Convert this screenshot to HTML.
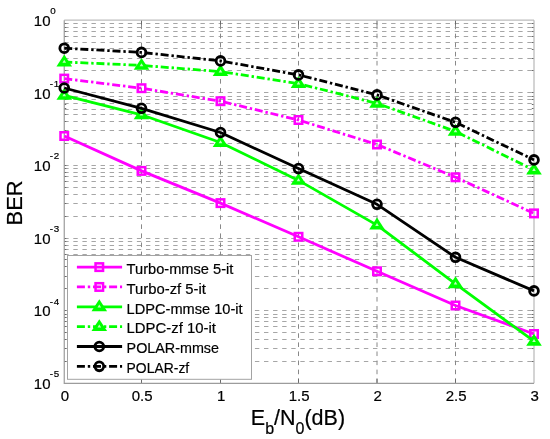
<!DOCTYPE html>
<html><head><meta charset="utf-8"><title>BER plot</title>
<style>
html,body{margin:0;padding:0;background:#fff;}
svg{display:block;}
.t{font-family:"Liberation Sans",Arial,sans-serif;font-size:15px;fill:#000;stroke:#000;stroke-width:0.2px;}
.s{font-family:"Liberation Sans",Arial,sans-serif;font-size:9.8px;fill:#000;stroke:#000;stroke-width:0.2px;}
.l{font-family:"Liberation Sans",Arial,sans-serif;font-size:21.5px;fill:#000;stroke:#000;stroke-width:0.2px;}
.sub{font-size:16px;}
</style></head><body>
<svg width="550" height="439" viewBox="0 0 550 439">
<rect x="0" y="0" width="550" height="439" fill="#fff"/>
<path d="M64.25 92.50H534.00 M64.25 70.50H534.00 M64.25 58.50H534.00 M64.25 48.50H534.00 M64.25 42.50H534.00 M64.25 36.50H534.00 M64.25 31.50H534.00 M64.25 27.50H534.00 M64.25 23.50H534.00 M64.25 165.50H534.00 M64.25 143.50H534.00 M64.25 130.50H534.00 M64.25 121.50H534.00 M64.25 114.50H534.00 M64.25 109.50H534.00 M64.25 103.50H534.00 M64.25 99.50H534.00 M64.25 96.50H534.00 M64.25 238.50H534.00 M64.25 216.50H534.00 M64.25 203.50H534.00 M64.25 194.50H534.00 M64.25 187.50H534.00 M64.25 181.50H534.00 M64.25 176.50H534.00 M64.25 172.50H534.00 M64.25 168.50H534.00 M64.25 310.50H534.00 M64.25 288.50H534.00 M64.25 276.50H534.00 M64.25 266.50H534.00 M64.25 259.50H534.00 M64.25 254.50H534.00 M64.25 249.50H534.00 M64.25 245.50H534.00 M64.25 241.50H534.00 M64.25 361.50H534.00 M64.25 348.50H534.00 M64.25 339.50H534.00 M64.25 332.50H534.00 M64.25 326.50H534.00 M64.25 321.50H534.00 M64.25 317.50H534.00 M64.25 314.50H534.00" stroke="#a6a6a6" stroke-width="1" stroke-dasharray="4.4 4.68" fill="none"/>
<path d="M141.50 383.30V20.20 M220.50 383.30V20.20 M298.50 383.30V20.20 M377.00 383.30V20.20 M455.50 383.30V20.20" stroke="#888888" stroke-width="1" stroke-dasharray="4.6 4.48" fill="none"/>
<path d="M64.25 92.50h2.0M534.00 92.50h-2.2M64.25 70.50h2.0M534.00 70.50h-2.2M64.25 58.50h2.0M534.00 58.50h-2.2M64.25 49.50h2.0M534.00 49.50h-2.2M64.25 42.50h2.0M534.00 42.50h-2.2M64.25 36.50h2.0M534.00 36.50h-2.2M64.25 31.50h2.0M534.00 31.50h-2.2M64.25 27.50h2.0M534.00 27.50h-2.2M64.25 23.50h2.0M534.00 23.50h-2.2M64.25 165.50h2.0M534.00 165.50h-2.2M64.25 143.50h2.0M534.00 143.50h-2.2M64.25 130.50h2.0M534.00 130.50h-2.2M64.25 121.50h2.0M534.00 121.50h-2.2M64.25 114.50h2.0M534.00 114.50h-2.2M64.25 108.50h2.0M534.00 108.50h-2.2M64.25 104.50h2.0M534.00 104.50h-2.2M64.25 99.50h2.0M534.00 99.50h-2.2M64.25 96.50h2.0M534.00 96.50h-2.2M64.25 238.50h2.0M534.00 238.50h-2.2M64.25 216.50h2.0M534.00 216.50h-2.2M64.25 203.50h2.0M534.00 203.50h-2.2M64.25 194.50h2.0M534.00 194.50h-2.2M64.25 187.50h2.0M534.00 187.50h-2.2M64.25 181.50h2.0M534.00 181.50h-2.2M64.25 176.50h2.0M534.00 176.50h-2.2M64.25 172.50h2.0M534.00 172.50h-2.2M64.25 168.50h2.0M534.00 168.50h-2.2M64.25 310.50h2.0M534.00 310.50h-2.2M64.25 288.50h2.0M534.00 288.50h-2.2M64.25 276.50h2.0M534.00 276.50h-2.2M64.25 266.50h2.0M534.00 266.50h-2.2M64.25 259.50h2.0M534.00 259.50h-2.2M64.25 254.50h2.0M534.00 254.50h-2.2M64.25 249.50h2.0M534.00 249.50h-2.2M64.25 245.50h2.0M534.00 245.50h-2.2M64.25 241.50h2.0M534.00 241.50h-2.2M64.25 383.50h2.0M534.00 383.50h-2.2M64.25 361.50h2.0M534.00 361.50h-2.2M64.25 348.50h2.0M534.00 348.50h-2.2M64.25 339.50h2.0M534.00 339.50h-2.2M64.25 332.50h2.0M534.00 332.50h-2.2M64.25 326.50h2.0M534.00 326.50h-2.2M64.25 321.50h2.0M534.00 321.50h-2.2M64.25 317.50h2.0M534.00 317.50h-2.2M64.25 314.50h2.0M534.00 314.50h-2.2M141.50 383.30v-4.7M141.50 20.20v4.7M220.50 383.30v-4.7M220.50 20.20v4.7M298.50 383.30v-4.7M298.50 20.20v4.7M377.00 383.30v-4.7M377.00 20.20v4.7M455.50 383.30v-4.7M455.50 20.20v4.7" stroke="#6a6a6a" stroke-width="1" fill="none"/>
<path d="M64.25 20.20H534.00M534.00 20.20V383.30" stroke="#bdbdbd" stroke-width="1.3" fill="none"/>
<path d="M64.25 20.20V383.30H534.00" stroke="#9c9c9c" stroke-width="1.2" fill="none"/>
<polyline points="64.25,136.00 141.50,170.90 220.50,203.10 298.50,236.80 377.00,271.30 455.50,305.50 534.00,334.00" fill="none" stroke="#ff00ff" stroke-width="2.8" stroke-linejoin="round"/>
<rect x="60.50" y="132.25" width="7.5" height="7.5" fill="none" stroke="#ff00ff" stroke-width="2.5"/>
<rect x="137.75" y="167.15" width="7.5" height="7.5" fill="none" stroke="#ff00ff" stroke-width="2.5"/>
<rect x="216.75" y="199.35" width="7.5" height="7.5" fill="none" stroke="#ff00ff" stroke-width="2.5"/>
<rect x="294.75" y="233.05" width="7.5" height="7.5" fill="none" stroke="#ff00ff" stroke-width="2.5"/>
<rect x="373.25" y="267.55" width="7.5" height="7.5" fill="none" stroke="#ff00ff" stroke-width="2.5"/>
<rect x="451.75" y="301.75" width="7.5" height="7.5" fill="none" stroke="#ff00ff" stroke-width="2.5"/>
<rect x="530.25" y="330.25" width="7.5" height="7.5" fill="none" stroke="#ff00ff" stroke-width="2.5"/>
<polyline points="64.25,78.60 141.50,88.20 220.50,101.20 298.50,120.00 377.00,144.50 455.50,177.30 534.00,213.40" fill="none" stroke="#ff00ff" stroke-width="2.8" stroke-dasharray="8.0 2.9 2.4 2.8" stroke-linejoin="round"/>
<rect x="60.50" y="74.85" width="7.5" height="7.5" fill="none" stroke="#ff00ff" stroke-width="2.5"/>
<rect x="137.75" y="84.45" width="7.5" height="7.5" fill="none" stroke="#ff00ff" stroke-width="2.5"/>
<rect x="216.75" y="97.45" width="7.5" height="7.5" fill="none" stroke="#ff00ff" stroke-width="2.5"/>
<rect x="294.75" y="116.25" width="7.5" height="7.5" fill="none" stroke="#ff00ff" stroke-width="2.5"/>
<rect x="373.25" y="140.75" width="7.5" height="7.5" fill="none" stroke="#ff00ff" stroke-width="2.5"/>
<rect x="451.75" y="173.55" width="7.5" height="7.5" fill="none" stroke="#ff00ff" stroke-width="2.5"/>
<rect x="530.25" y="209.65" width="7.5" height="7.5" fill="none" stroke="#ff00ff" stroke-width="2.5"/>
<polyline points="64.25,95.40 141.50,114.80 220.50,142.50 298.50,180.40 377.00,225.10 455.50,283.80 534.00,341.20" fill="none" stroke="#00ff00" stroke-width="2.8" stroke-linejoin="round"/>
<path d="M64.25 87.90L72.05 99.85L56.45 99.85Z" fill="#00ff00"/><path d="M64.25 93.20L66.05 96.20L62.45 96.20Z" fill="#fff" opacity="0.75"/>
<path d="M141.50 107.30L149.30 119.25L133.70 119.25Z" fill="#00ff00"/><path d="M141.50 112.60L143.30 115.60L139.70 115.60Z" fill="#fff" opacity="0.75"/>
<path d="M220.50 135.00L228.30 146.95L212.70 146.95Z" fill="#00ff00"/><path d="M220.50 140.30L222.30 143.30L218.70 143.30Z" fill="#fff" opacity="0.75"/>
<path d="M298.50 172.90L306.30 184.85L290.70 184.85Z" fill="#00ff00"/><path d="M298.50 178.20L300.30 181.20L296.70 181.20Z" fill="#fff" opacity="0.75"/>
<path d="M377.00 217.60L384.80 229.55L369.20 229.55Z" fill="#00ff00"/><path d="M377.00 222.90L378.80 225.90L375.20 225.90Z" fill="#fff" opacity="0.75"/>
<path d="M455.50 276.30L463.30 288.25L447.70 288.25Z" fill="#00ff00"/><path d="M455.50 281.60L457.30 284.60L453.70 284.60Z" fill="#fff" opacity="0.75"/>
<path d="M534.00 333.70L541.80 345.65L526.20 345.65Z" fill="#00ff00"/><path d="M534.00 339.00L535.80 342.00L532.20 342.00Z" fill="#fff" opacity="0.75"/>
<polyline points="64.25,62.00 141.50,65.40 220.50,71.60 298.50,83.60 377.00,103.40 455.50,131.40 534.00,170.10" fill="none" stroke="#00ff00" stroke-width="2.8" stroke-dasharray="8.0 2.9 2.4 2.8" stroke-linejoin="round"/>
<path d="M64.25 54.50L72.05 66.45L56.45 66.45Z" fill="#00ff00"/><path d="M64.25 59.80L66.05 62.80L62.45 62.80Z" fill="#fff" opacity="0.75"/>
<path d="M141.50 57.90L149.30 69.85L133.70 69.85Z" fill="#00ff00"/><path d="M141.50 63.20L143.30 66.20L139.70 66.20Z" fill="#fff" opacity="0.75"/>
<path d="M220.50 64.10L228.30 76.05L212.70 76.05Z" fill="#00ff00"/><path d="M220.50 69.40L222.30 72.40L218.70 72.40Z" fill="#fff" opacity="0.75"/>
<path d="M298.50 76.10L306.30 88.05L290.70 88.05Z" fill="#00ff00"/><path d="M298.50 81.40L300.30 84.40L296.70 84.40Z" fill="#fff" opacity="0.75"/>
<path d="M377.00 95.90L384.80 107.85L369.20 107.85Z" fill="#00ff00"/><path d="M377.00 101.20L378.80 104.20L375.20 104.20Z" fill="#fff" opacity="0.75"/>
<path d="M455.50 123.90L463.30 135.85L447.70 135.85Z" fill="#00ff00"/><path d="M455.50 129.20L457.30 132.20L453.70 132.20Z" fill="#fff" opacity="0.75"/>
<path d="M534.00 162.60L541.80 174.55L526.20 174.55Z" fill="#00ff00"/><path d="M534.00 167.90L535.80 170.90L532.20 170.90Z" fill="#fff" opacity="0.75"/>
<polyline points="64.25,88.00 141.50,108.30 220.50,132.50 298.50,168.60 377.00,204.30 455.50,257.30 534.00,290.90" fill="none" stroke="#000000" stroke-width="2.8" stroke-linejoin="round"/>
<circle cx="64.25" cy="88.00" r="4.4" fill="none" stroke="#000000" stroke-width="2.8"/>
<circle cx="141.50" cy="108.30" r="4.4" fill="none" stroke="#000000" stroke-width="2.8"/>
<circle cx="220.50" cy="132.50" r="4.4" fill="none" stroke="#000000" stroke-width="2.8"/>
<circle cx="298.50" cy="168.60" r="4.4" fill="none" stroke="#000000" stroke-width="2.8"/>
<circle cx="377.00" cy="204.30" r="4.4" fill="none" stroke="#000000" stroke-width="2.8"/>
<circle cx="455.50" cy="257.30" r="4.4" fill="none" stroke="#000000" stroke-width="2.8"/>
<circle cx="534.00" cy="290.90" r="4.4" fill="none" stroke="#000000" stroke-width="2.8"/>
<polyline points="64.25,48.20 141.50,52.40 220.50,60.90 298.50,74.90 377.00,94.90 455.50,122.30 534.00,159.90" fill="none" stroke="#000000" stroke-width="2.8" stroke-dasharray="8.0 2.9 2.4 2.8" stroke-linejoin="round"/>
<circle cx="64.25" cy="48.20" r="4.4" fill="none" stroke="#000000" stroke-width="2.8"/>
<circle cx="141.50" cy="52.40" r="4.4" fill="none" stroke="#000000" stroke-width="2.8"/>
<circle cx="220.50" cy="60.90" r="4.4" fill="none" stroke="#000000" stroke-width="2.8"/>
<circle cx="298.50" cy="74.90" r="4.4" fill="none" stroke="#000000" stroke-width="2.8"/>
<circle cx="377.00" cy="94.90" r="4.4" fill="none" stroke="#000000" stroke-width="2.8"/>
<circle cx="455.50" cy="122.30" r="4.4" fill="none" stroke="#000000" stroke-width="2.8"/>
<circle cx="534.00" cy="159.90" r="4.4" fill="none" stroke="#000000" stroke-width="2.8"/>
<rect x="67.5" y="255.5" width="184.0" height="123.80000000000001" fill="#fff" stroke="#a3a3a3" stroke-width="1"/>
<path d="M76.9 267.10H122.1" stroke="#ff00ff" stroke-width="2.8" fill="none"/>
<rect x="95.55" y="263.35" width="7.5" height="7.5" fill="none" stroke="#ff00ff" stroke-width="2.5"/>
<text x="126.6" y="273.90" class="t" textLength="106.8" lengthAdjust="spacingAndGlyphs">Turbo-mmse 5-it</text>
<path d="M76.9 286.95H122.1" stroke="#ff00ff" stroke-width="2.8" stroke-dasharray="8.0 2.9 2.4 2.8" fill="none"/>
<rect x="95.55" y="283.20" width="7.5" height="7.5" fill="none" stroke="#ff00ff" stroke-width="2.5"/>
<text x="126.6" y="293.75" class="t" textLength="79.3" lengthAdjust="spacingAndGlyphs">Turbo-zf 5-it</text>
<path d="M76.9 306.80H122.1" stroke="#00ff00" stroke-width="2.8" fill="none"/>
<path d="M99.30 299.30L107.10 311.25L91.50 311.25Z" fill="#00ff00"/><path d="M99.30 304.60L101.10 307.60L97.50 307.60Z" fill="#fff" opacity="0.75"/>
<text x="126.6" y="313.60" class="t" textLength="116" lengthAdjust="spacingAndGlyphs">LDPC-mmse 10-it</text>
<path d="M76.9 326.65H122.1" stroke="#00ff00" stroke-width="2.8" stroke-dasharray="8.0 2.9 2.4 2.8" fill="none"/>
<path d="M99.30 319.15L107.10 331.10L91.50 331.10Z" fill="#00ff00"/><path d="M99.30 324.45L101.10 327.45L97.50 327.45Z" fill="#fff" opacity="0.75"/>
<text x="126.6" y="333.45" class="t" textLength="89.3" lengthAdjust="spacingAndGlyphs">LDPC-zf 10-it</text>
<path d="M76.9 346.50H122.1" stroke="#000000" stroke-width="2.8" fill="none"/>
<circle cx="99.30" cy="346.50" r="4.4" fill="none" stroke="#000000" stroke-width="2.8"/>
<text x="126.6" y="353.30" class="t" textLength="92.4" lengthAdjust="spacingAndGlyphs">POLAR-mmse</text>
<path d="M76.9 366.35H122.1" stroke="#000000" stroke-width="2.8" stroke-dasharray="8.0 2.9 2.4 2.8" fill="none"/>
<circle cx="99.30" cy="366.35" r="4.4" fill="none" stroke="#000000" stroke-width="2.8"/>
<text x="126.6" y="373.15" class="t" textLength="62.6" lengthAdjust="spacingAndGlyphs">POLAR-zf</text>
<text x="64.85" y="401.2" class="t" text-anchor="middle">0</text>
<text x="142.10" y="401.2" class="t" text-anchor="middle">0.5</text>
<text x="221.10" y="401.2" class="t" text-anchor="middle">1</text>
<text x="299.10" y="401.2" class="t" text-anchor="middle">1.5</text>
<text x="377.60" y="401.2" class="t" text-anchor="middle">2</text>
<text x="456.10" y="401.2" class="t" text-anchor="middle">2.5</text>
<text x="534.60" y="401.2" class="t" text-anchor="middle">3</text>
<text x="50.5" y="25.90" class="t" text-anchor="end">10</text>
<text x="50.3" y="14.20" class="s" letter-spacing="0">0</text>
<text x="50.5" y="98.52" class="t" text-anchor="end">10</text>
<text x="49.7" y="86.82" class="s" letter-spacing="0.7">-1</text>
<text x="50.5" y="171.14" class="t" text-anchor="end">10</text>
<text x="49.7" y="159.44" class="s" letter-spacing="0.7">-2</text>
<text x="50.5" y="243.76" class="t" text-anchor="end">10</text>
<text x="49.7" y="232.06" class="s" letter-spacing="0.7">-3</text>
<text x="50.5" y="316.38" class="t" text-anchor="end">10</text>
<text x="49.7" y="304.68" class="s" letter-spacing="0.7">-4</text>
<text x="50.5" y="389.00" class="t" text-anchor="end">10</text>
<text x="49.7" y="377.30" class="s" letter-spacing="0.7">-5</text>
<text transform="translate(22.3,202.9) rotate(-90)" class="l" style="font-size:22px" text-anchor="middle">BER</text>
<text x="250.8" y="424.8" class="l">E<tspan class="sub" dy="8.8">b</tspan><tspan dy="-8.8">/N</tspan><tspan class="sub" dy="8.8">0</tspan><tspan dy="-8.8">(dB)</tspan></text>
</svg>
</body></html>
